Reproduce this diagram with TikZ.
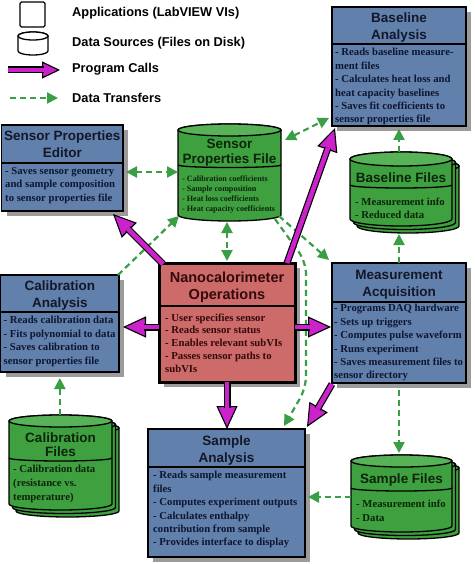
\documentclass[tikz,border=0pt]{standalone}
\usepackage{fontspec}
\setmainfont{Liberation Serif}
\setsansfont{Liberation Sans}
\usetikzlibrary{arrows.meta,shadows,calc}
\definecolor{boxblue}{RGB}{98,128,172}
\definecolor{nanored}{RGB}{205,106,106}
\definecolor{cylgreen}{RGB}{62,160,62}
\definecolor{cyltop}{RGB}{88,178,88}
\definecolor{callpurple}{RGB}{204,34,204}
\definecolor{dashgreen}{RGB}{58,158,68}
\definecolor{shadowgray}{RGB}{155,155,155}
\definecolor{titleink}{RGB}{18,24,40}
\definecolor{bodyink}{RGB}{14,22,48}
\definecolor{nanoink}{RGB}{52,10,10}
\definecolor{cylink}{RGB}{12,36,12}
\newcommand\filecyl[7]{%
  \pgfmathsetmacro\cylrx{(#2-#1)/2}%
  \pgfmathsetmacro\cylcx{(#2+#1)/2}%
  \filldraw[#6] (#1,#3) -- (#1,#4) arc[start angle=180,end angle=0,x radius=\cylrx,y radius=#5] -- (#2,#3) arc[start angle=0,end angle=-180,x radius=\cylrx,y radius=#5] -- cycle;
  \filldraw[#6,fill=#7] (\cylcx,#3) ellipse[x radius=\cylrx,y radius=#5];
}
\newcommand\progcall[2]{%
  \draw[callline] #1 -- #2;
  \draw[callshaft] #1 -- #2;
}
\begin{document}
\begin{tikzpicture}[x=1pt,y=-1pt,
  appbox/.style={draw=black, line width=1.3pt, fill=boxblue, inner sep=0pt, outer sep=0pt,
    drop shadow={shadow xshift=5pt, shadow yshift=-5pt, fill=shadowgray, opacity=1}},
  nanobox/.style={appbox, fill=nanored, line width=3pt},
  divline/.style={draw=black, line width=1.3pt},
  apptitle/.style={font=\sffamily\bfseries\fontsize{13.5}{17}\selectfont, align=center, text=titleink, inner sep=0pt, anchor=north},
  appbody/.style={font=\rmfamily\bfseries\fontsize{10.7}{13.4}\selectfont, align=left, text=bodyink, inner sep=0pt, anchor=north west},
  cylst/.style={draw=black, line width=1.3pt, fill=cylgreen},
  legcyl/.style={draw=black, line width=1.3pt, fill=white},
  cyltitle/.style={apptitle, text=cylink},
  cylbody/.style={appbody, text=cylink, font=\rmfamily\bfseries\fontsize{10.7}{13.6}\selectfont},
  region/.style={inner sep=0pt, outer sep=0pt},
  legtext/.style={font=\sffamily\bfseries\fontsize{12.8}{15}\selectfont, anchor=west, inner sep=0pt, text=black},
  callline/.style={draw=black, line width=1.1pt, -{Triangle[length=23pt,width=21pt,fill=callpurple]}},
  callshaft/.style={draw=black, line width=1.2pt, double=callpurple, double distance=4.6pt, shorten >=21pt},
  datatr/.style={draw=dashgreen, line width=2.2pt, dash pattern=on 6pt off 4pt, -{Triangle[length=11pt,width=11pt]}},
  dtboth/.style={datatr, {Triangle[length=11pt,width=11pt]}-{Triangle[length=11pt,width=11pt]}}
]
\useasboundingbox (0,0) rectangle (474,564);
\fill[white] (0,0) rectangle (474,564);

% ---------- legend ----------
\node[draw=black, line width=1.3pt, fill=white, rounded corners=1.5pt, minimum width=25, minimum height=25, inner sep=0pt] (legapp) at (32.5,14.5) {};
\node[legtext] (legappt) at (72,13) {Applications (LabVIEW VIs)};
\filecyl{18}{48}{36}{51}{4}{legcyl}{white}
\node[legtext] (legdatat) at (72,43) {Data Sources (Files on Disk)};
\coordinate (legcallA) at (8,70);
\coordinate (legcallB) at (60,70);
\draw[callline, -{Triangle[length=18pt,width=17pt,fill=callpurple]}] (legcallA) -- (legcallB);
\draw[callshaft, shorten >=16pt] (legcallA) -- (legcallB);
\node[legtext] (legcallt) at (72,69) {Program Calls};
\coordinate (legdtA) at (10,98);
\coordinate (legdtB) at (58,98);
\draw[datatr] (legdtA) -- (legdtB);
\node[legtext] (legdtt) at (72,98) {Data Transfers};

% ---------- applications ----------
\node[appbox, minimum width=121.5, minimum height=86] (editor) at (62.25,168) {};
\draw[divline] (1.5,163) -- (123,163);
\node[apptitle] (editorT) at (62.25,130.1) {Sensor Properties\\Editor};
\node[appbody] (editorB) at (5,167.3) {- Saves sensor geometry\\and sample composition\\to sensor properties file};

\node[appbox, minimum width=134, minimum height=119] (baseA) at (399,66.5) {};
\draw[divline] (332,44) -- (466,44);
\node[apptitle] (baseAT) at (399,12.1) {Baseline\\Analysis};
\node[appbody] (baseAB) at (335,48.3) {- Reads baseline measure-\\ment files\\- Calculates heat loss and\\heat capacity baselines\\- Saves fit coefficients to\\sensor properties file};

\node[nanobox, minimum width=136, minimum height=119] (nano) at (227,322.5) {};
\draw[divline] (159,306) -- (295,306);
\node[apptitle, text=nanoink, font=\sffamily\bfseries\fontsize{14.5}{17}\selectfont] (nanoT) at (227,271.8) {Nanocalorimeter\\Operations};
\node[appbody, text=nanoink, font=\rmfamily\bfseries\fontsize{10.7}{12.8}\selectfont] (nanoB) at (165,313.3) {- User specifies sensor\\- Reads sensor status\\- Enables relevant subVIs\\- Passes sensor paths to\\subVIs};

\node[appbox, minimum width=134, minimum height=120] (ma) at (399,323) {};
\draw[divline] (332,302) -- (466,302);
\node[apptitle] (maT) at (399,270.1) {Measurement\\Acquisition};
\node[appbody] (maB) at (334,304.3) {- Programs DAQ hardware\\- Sets up triggers\\- Computes pulse waveform\\- Runs experiment\\- Saves measurement files to\\sensor directory};

\node[appbox, minimum width=118.3, minimum height=97] (ca) at (59.85,323.5) {};
\draw[divline] (0.7,312) -- (119,312);
\node[apptitle] (caT) at (59.85,280.1) {Calibration\\Analysis};
\node[appbody] (caB) at (3.5,316.3) {- Reads calibration data\\- Fits polynomial to data\\- Saves calibration to\\sensor properties file};

\node[appbox, minimum width=157, minimum height=128] (sa) at (226.5,493) {};
\draw[divline] (148,467) -- (305,467);
\node[apptitle] (saT) at (226.5,435.1) {Sample\\Analysis};
\node[appbody] (saB) at (153,471.3) {- Reads sample measurement\\files\\- Computes experiment outputs\\- Calculates enthalpy\\contribution from sample\\- Provides interface to display};

% ---------- data sources ----------
\filecyl{178}{281}{130}{215}{6}{cylst}{cyltop}
\draw[divline] (178,165) arc[start angle=180,end angle=0,x radius=51.5,y radius=2.5];
\node[region, minimum width=103, minimum height=98] (spf) at (229.5,173) {};
\node[cyltitle, font=\sffamily\bfseries\fontsize{13.5}{14.5}\selectfont] (spfT) at (229.5,139.3) {Sensor\\Properties File};
\node[cylbody, font=\rmfamily\bfseries\fontsize{8.1}{10}\selectfont] (spfB) at (182,175.5) {- Calibration coefficients\\- Sample composition\\- Heat loss coefficients\\- Heat capacity coefficients};

\begin{scope}[shift={(7,7)}]\filecyl{350}{452}{159}{219}{7}{cylst}{cyltop}\end{scope}
\begin{scope}[shift={(3.5,3.5)}]\filecyl{350}{452}{159}{219}{7}{cylst}{cyltop}\end{scope}
\filecyl{350}{452}{159}{219}{7}{cylst}{cyltop}
\draw[divline] (350,185) arc[start angle=180,end angle=0,x radius=51,y radius=3];
\node[region, minimum width=102, minimum height=74] (basef) at (401,189) {};
\node[cyltitle] (basefT) at (401,172.1) {Baseline Files};
\node[cylbody, font=\rmfamily\bfseries\fontsize{10.7}{13}\selectfont] (basefB) at (355,197.3) {- Measurement info\\- Reduced data};

\begin{scope}[shift={(7,7)}]\filecyl{9}{112}{421}{504}{6}{cylst}{cyltop}\end{scope}
\begin{scope}[shift={(3.5,3.5)}]\filecyl{9}{112}{421}{504}{6}{cylst}{cyltop}\end{scope}
\filecyl{9}{112}{421}{504}{6}{cylst}{cyltop}
\draw[divline] (9,458) arc[start angle=180,end angle=0,x radius=51.5,y radius=3];
\node[region, minimum width=103, minimum height=95] (cf) at (60.5,462.5) {};
\node[cyltitle, font=\sffamily\bfseries\fontsize{13.5}{14}\selectfont] (cfT) at (60.5,432.1) {Calibration\\Files};
\node[cylbody, font=\rmfamily\bfseries\fontsize{10.7}{14}\selectfont] (cfB) at (13,465.3) {- Calibration data\\(resistance vs.\\temperature)};

\begin{scope}[shift={(7,7)}]\filecyl{351}{452}{461}{526}{6}{cylst}{cyltop}\end{scope}
\begin{scope}[shift={(3.5,3.5)}]\filecyl{351}{452}{461}{526}{6}{cylst}{cyltop}\end{scope}
\filecyl{351}{452}{461}{526}{6}{cylst}{cyltop}
\draw[divline] (351,488) arc[start angle=180,end angle=0,x radius=50.5,y radius=3];
\node[region, minimum width=101, minimum height=77] (sf) at (401.5,493.5) {};
\node[cyltitle] (sfT) at (401.5,473.1) {Sample Files};
\node[cylbody, font=\rmfamily\bfseries\fontsize{10.7}{14}\selectfont] (sfB) at (356,499.3) {- Measurement info\\- Data};

% ---------- data transfers ----------
\coordinate (erow) at (0,172);
\coordinate (srow) at (0,497);
\coordinate (crow) at (0,327);
\coordinate (bendA) at (306,262);
\coordinate (bendB) at (306,388);
\draw[dtboth] ($(editor.east |- erow)+(3,0)$) -- (spf.west |- erow);
\draw[datatr] ($(ca.north east)+(-1,0)$) -- ($(spf.south west)+(1,-6)$);
\draw[dtboth] (nano.north |- spf.south) -- ($(nano.north)+(0,-2)$);
\draw[dtboth] ($(spf.north east)+(4,16)$) -- ($(baseA.south west)+(-3,-8)$);
\draw[datatr] (baseA.south |- basef.north) -- ($(baseA.south)+(0,3)$);
\draw[datatr] (ma.north) -- ($(ma.north |- basef.south)+(0,8)$);
\draw[datatr] ($(spf.south east)+(-2,-6)$) -- ($(ma.north west)+(-3,-3)$);
\draw[datatr, rounded corners=12pt] ($(spf.south east)+(-6,-3)$) -- (bendA) -- (bendB) -- ($(sa.north east)+(-21,-3)$);
\draw[datatr] ($(ma.south)+(0,7)$) -- ($(ma.south |- sf.north)+(0,-2)$);
\draw[datatr] (sf.west |- srow) -- ($(sa.east |- srow)+(3,0)$);
\draw[datatr] (ca.south |- cf.north) -- ($(ca.south)+(0,6)$);

% ---------- program calls ----------
\progcall{($(nano.north west)+(4,1)$)}{($(editor.south east)+(-10,3)$)}
\progcall{($(nano.north east)+(-8,0)$)}{($(baseA.south west)+(3,2)$)}
\progcall{(nano.west |- crow)}{($(ca.east |- crow)+(4,0)$)}
\progcall{(nano.east |- crow)}{($(ma.west |- crow)+(-1,0)$)}
\progcall{(nano.south)}{(nano.south |- sa.north)}
\progcall{($(ma.south west)+(0,1)$)}{($(sa.north east)+(2,-2)$)}
\end{tikzpicture}
\end{document}
